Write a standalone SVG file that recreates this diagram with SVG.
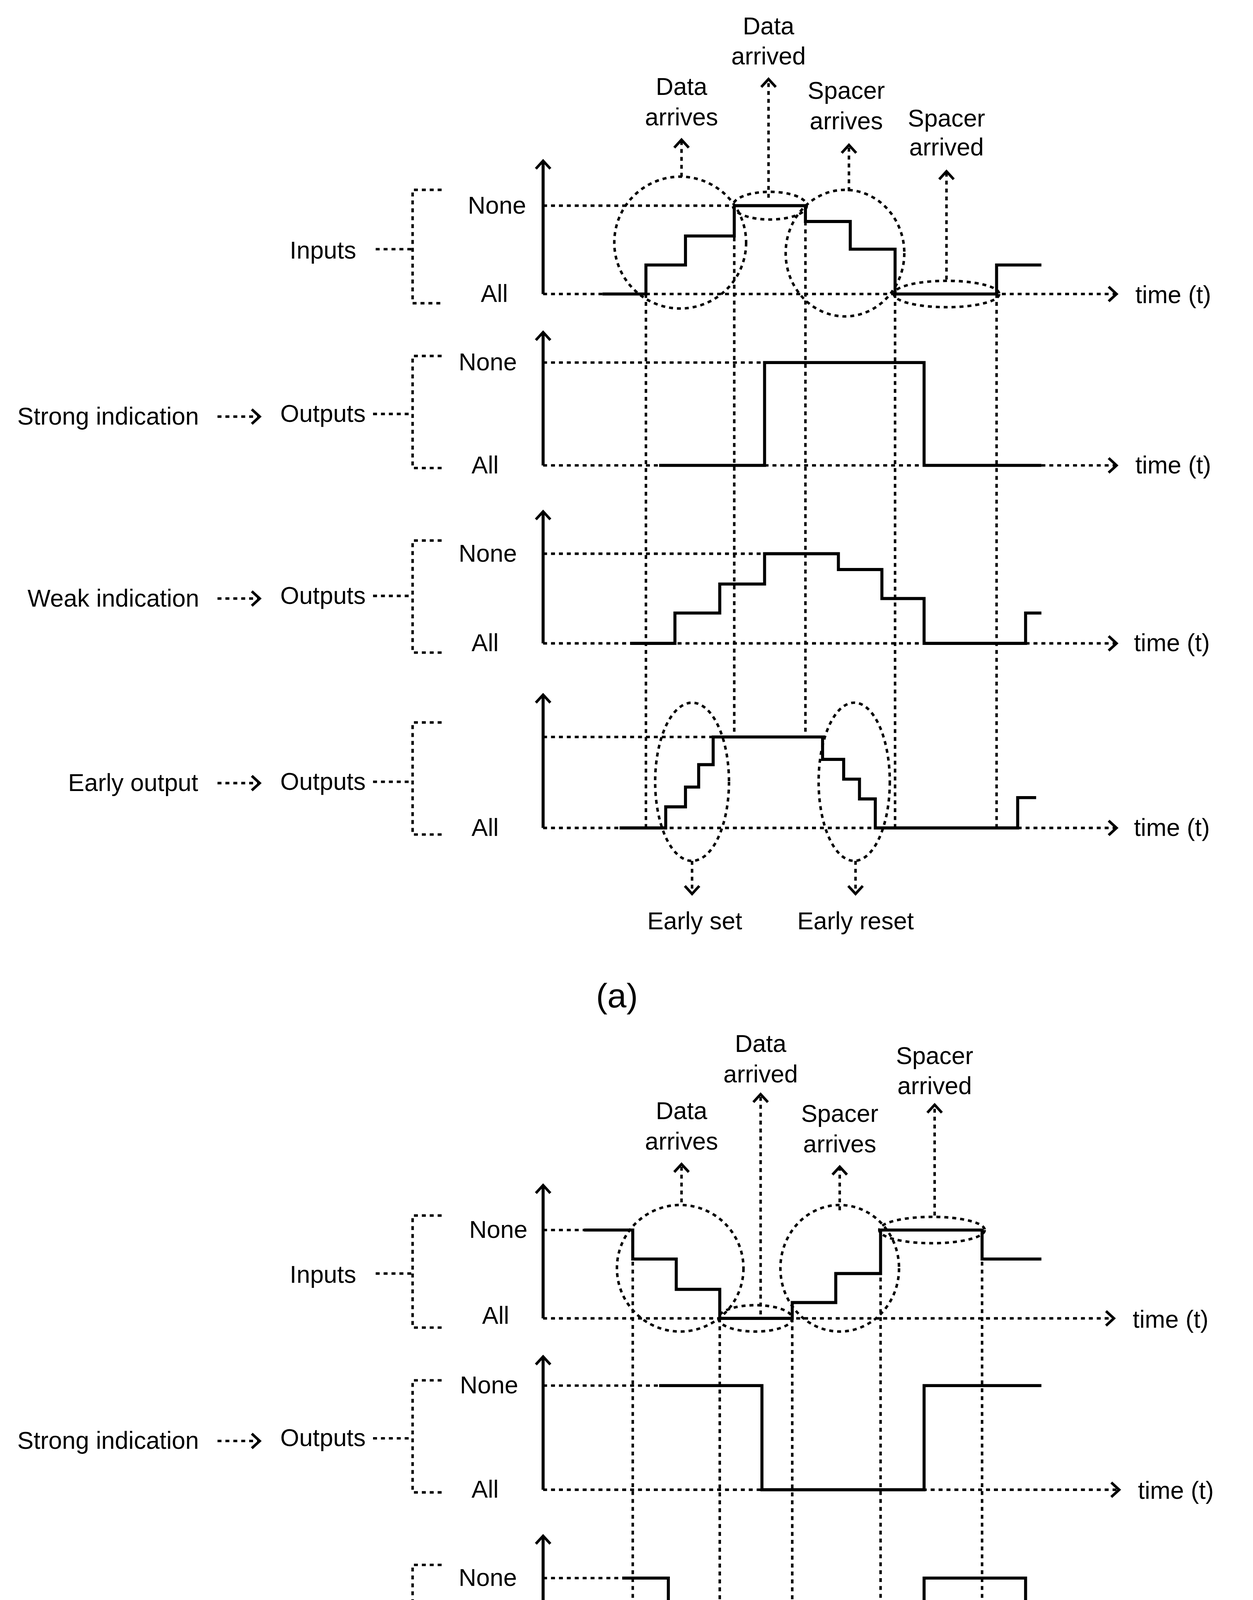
<svg xmlns="http://www.w3.org/2000/svg" width="3208" height="5280" viewBox="0 0 3208 5280">
<defs>
<marker id="ch" markerUnits="userSpaceOnUse" markerWidth="14" markerHeight="14" refX="9" refY="7" orient="auto" overflow="visible">
<path d="M3,1.5 L9,7 L3,12.5" fill="none" stroke="#000" stroke-width="2" stroke-dasharray="none"/>
</marker>
<style>
.t{font-family:"Liberation Sans",Arial,sans-serif;font-size:18.5px;fill:#000;text-anchor:middle}
.d{fill:none;stroke:#000;stroke-width:1.9;stroke-dasharray:3 3}
.s{fill:none;stroke:#000;stroke-width:2.3}
.a{marker-end:url(#ch)}
</style>
</defs>
<rect width="3208" height="5280" fill="#fff"/>
<g transform="scale(3.375)">
<g id="panel-a">
<g id="a-labels">
<text class="t" x="583" y="26">Data</text><text class="t" x="583" y="49">arrived</text>
<text class="t" x="517" y="72">Data</text><text class="t" x="517" y="95">arrives</text>
<text class="t" x="642" y="75">Spacer</text><text class="t" x="642" y="98">arrives</text>
<text class="t" x="718" y="96">Spacer</text><text class="t" x="718" y="118">arrived</text>
<text class="t" x="245" y="196">Inputs</text>
<text class="t" x="377" y="162">None</text><text class="t" x="375" y="229">All</text>
<text class="t" x="82" y="322">Strong indication</text><text class="t" x="245" y="320">Outputs</text>
<text class="t" x="370" y="281">None</text><text class="t" x="368" y="359">All</text>
<text class="t" x="86" y="460">Weak indication</text><text class="t" x="245" y="458">Outputs</text>
<text class="t" x="370" y="426">None</text><text class="t" x="368" y="494">All</text>
<text class="t" x="101" y="600">Early output</text><text class="t" x="245" y="599">Outputs</text>
<text class="t" x="368" y="634">All</text>
<text class="t" x="890" y="230">time (t)</text><text class="t" x="890" y="359">time (t)</text>
<text class="t" x="889" y="494">time (t)</text><text class="t" x="889" y="634">time (t)</text>
<text class="t" x="527" y="705">Early set</text><text class="t" x="649" y="705">Early reset</text>
<text class="t" x="468" y="764" style="font-size:26px">(a)</text>
</g>
<g id="a-connectors">
<path class="d a" d="M583,150 V60"/><path class="d a" d="M517,134 V106"/>
<path class="d a" d="M644,145 V110"/><path class="d a" d="M718,212 V130"/>
<path class="d" d="M335,144 H313 V230 H335 M285,189 H313"/>
<path class="d" d="M335,270 H313 V355 H335 M283,314 H313"/>
<path class="d" d="M335,410 H313 V495 H335 M283,452 H313"/>
<path class="d" d="M335,548 H313 V633 H335 M283,593 H313"/>
<path class="d a" d="M165,316 H197"/><path class="d a" d="M165,454 H197"/><path class="d a" d="M165,594 H197"/>
<path class="d a" d="M412,223 H847"/><path class="d a" d="M412,353 H847"/>
<path class="d a" d="M412,488 H847"/><path class="d a" d="M412,628 H847"/>
<path class="d" d="M412,156 H557 M412,275 H580 M412,420 H580 M412,559 H541"/>
<path class="d" d="M490,223 V628 M557,156 V559 M611,156 V559 M679,223 V628 M756,223 V628"/>
<ellipse class="d" cx="516" cy="184" rx="50" ry="50"/>
<ellipse class="d" cx="584" cy="156" rx="28" ry="10.5"/>
<ellipse class="d" cx="641" cy="192" rx="45" ry="48"/>
<ellipse class="d" cx="718" cy="223" rx="40" ry="10"/>
<ellipse class="d" cx="525" cy="593" rx="28" ry="60"/>
<ellipse class="d" cx="648" cy="593" rx="27" ry="60"/>
<path class="d a" d="M525,653 V678"/><path class="d a" d="M649,653 V678"/>
</g>
<g id="a-axes">
<path class="s a" d="M412,223 V122"/><path class="s a" d="M412,353 V252"/>
<path class="s a" d="M412,488 V388"/><path class="s a" d="M412,628 V527"/>
</g>
<g id="a-waves">
<path class="s" d="M457,223 H490 V201 H520 V179 H557 V156 H611 V168 H645 V189 H679 V223 H756 V201 H790"/>
<path class="s" d="M500,353 H580 V275 H701 V353 H790"/>
<path class="s" d="M478,488 H512 V465 H546 V443 H580 V420 H636 V432 H669 V454 H701 V488 H778 V465 H790"/>
<path class="s" d="M470,628 H505 V612 H520 V597 H530 V580 H541 V559 H624 V576 H640 V591 H652 V606 H664 V628 H772 V605 H786"/>
</g>
</g>
<g id="panel-b">
<g id="b-labels">
<text class="t" x="577" y="798">Data</text><text class="t" x="577" y="821">arrived</text>
<text class="t" x="517" y="849">Data</text><text class="t" x="517" y="872">arrives</text>
<text class="t" x="637" y="851">Spacer</text><text class="t" x="637" y="874">arrives</text>
<text class="t" x="709" y="807">Spacer</text><text class="t" x="709" y="830">arrived</text>
<text class="t" x="245" y="973">Inputs</text>
<text class="t" x="378" y="939">None</text><text class="t" x="376" y="1004">All</text>
<text class="t" x="82" y="1099">Strong indication</text><text class="t" x="245" y="1097">Outputs</text>
<text class="t" x="371" y="1057">None</text><text class="t" x="368" y="1136">All</text>
<text class="t" x="87" y="1237">Weak indication</text><text class="t" x="245" y="1235">Outputs</text>
<text class="t" x="370" y="1203">None</text><text class="t" x="368" y="1271">All</text>
<text class="t" x="102" y="1377">Early output</text><text class="t" x="245" y="1376">Outputs</text>
<text class="t" x="369" y="1343">None</text><text class="t" x="368" y="1411">All</text>
<text class="t" x="888" y="1007">time (t)</text><text class="t" x="892" y="1137">time (t)</text>
<text class="t" x="893" y="1271">time (t)</text><text class="t" x="892" y="1412">time (t)</text>
<text class="t" x="527" y="1487">Early set</text><text class="t" x="647" y="1487">Early reset</text>
<text class="t" x="468" y="1549" style="font-size:26px">(b)</text>
</g>
<g id="b-connectors">
<path class="d a" d="M577,997 V830"/><path class="d a" d="M517,912 V883"/>
<path class="d a" d="M637,918 V885"/><path class="d a" d="M709,922 V838"/>
<path class="d" d="M335,922 H313 V1007 H335 M285,966 H313"/>
<path class="d" d="M335,1047 H313 V1132 H335 M283,1091 H313"/>
<path class="d" d="M335,1187 H313 V1272 H335 M283,1229 H313"/>
<path class="d" d="M335,1325 H313 V1410 H335 M283,1370 H313"/>
<path class="d a" d="M165,1093 H197"/><path class="d a" d="M165,1231 H197"/><path class="d a" d="M165,1371 H197"/>
<path class="d a" d="M412,1000 H845"/><path class="d a" d="M412,1130 H849"/>
<path class="d a" d="M412,1265 H850"/><path class="d a" d="M412,1405 H849"/>
<path class="d" d="M412,933 H443 M412,1051 H500 M412,1197 H472 M412,1337 H470"/>
<path class="d" d="M480,933 V1337 M546,1000 V1405 M601,1000 V1405 M668,933 V1337 M745,933 V1337"/>
<ellipse class="d" cx="516" cy="962" rx="48" ry="48"/>
<ellipse class="d" cx="573" cy="1000" rx="28" ry="10"/>
<ellipse class="d" cx="637" cy="962" rx="45" ry="48"/>
<ellipse class="d" cx="707" cy="933" rx="40" ry="10"/>
<ellipse class="d" cx="525" cy="1368" rx="27" ry="60"/>
<ellipse class="d" cx="647" cy="1368" rx="27" ry="60"/>
<path class="d a" d="M525,1428 V1452"/><path class="d a" d="M647,1428 V1452"/>
</g>
<g id="b-axes">
<path class="s a" d="M412,1000 V899"/><path class="s a" d="M412,1130 V1029"/>
<path class="s a" d="M412,1265 V1165"/><path class="s a" d="M412,1405 V1304"/>
</g>
<g id="b-waves">
<path class="s" d="M443,933 H480 V955 H513 V978 H546 V1000 H601 V988 H634 V966 H668 V933 H745 V955 H790"/>
<path class="s" d="M500,1051 H578 V1130 H701 V1051 H790"/>
<path class="s" d="M472,1197 H507 V1220 H541 V1243 H575 V1265 H633 V1253 H666 V1231 H701 V1197 H778 V1220 H790"/>
<path class="s" d="M470,1337 H505 V1354 H522 V1371 H535 V1388 H541 V1405 H628 V1388 H643 V1371 H655 V1354 H662 V1337 H772 V1359 H790"/>
</g>
</g>
</g>
</svg>
